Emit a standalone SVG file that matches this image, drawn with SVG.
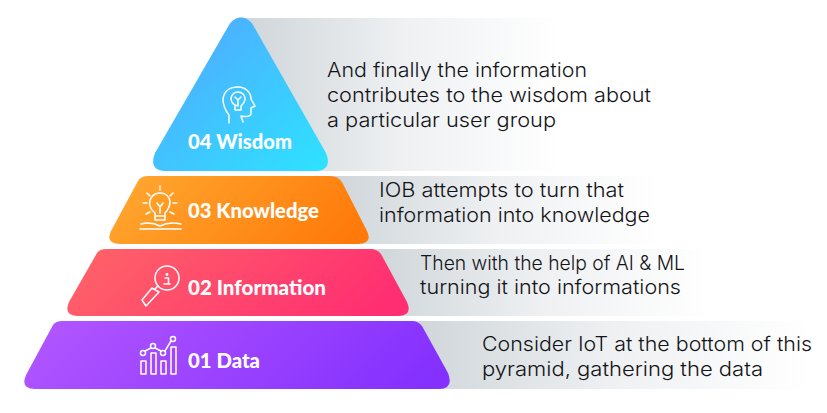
<svg xmlns="http://www.w3.org/2000/svg" width="827" height="413" viewBox="0 0 827 413">
<style>
.d{font-family:"Inter","Liberation Sans",sans-serif;font-size:19.5px;font-weight:300;fill:#141418}
.l{font-family:"Lato","Liberation Sans",sans-serif;font-size:20.5px;font-weight:900;fill:#fff}
.i{fill:none;stroke:#fff;stroke-width:1.5;stroke-linecap:round;stroke-linejoin:round}
</style>
<defs>
<linearGradient id="p" x1="0" y1="0" x2="1" y2="0"><stop offset="0" stop-color="#ced5d9"/><stop offset=".5" stop-color="#eef0f2"/><stop offset="1" stop-color="#fff"/></linearGradient>
<linearGradient id="g4" x1="0" y1="0" x2="1" y2="1"><stop offset="0" stop-color="#54a4ff"/><stop offset="1" stop-color="#2de3ff"/></linearGradient>
<linearGradient id="g3" x1="0" y1=".37" x2="1" y2=".63"><stop offset="0" stop-color="#ffa62e"/><stop offset="1" stop-color="#ff7a0a"/></linearGradient>
<linearGradient id="g2" x1="0" y1=".4" x2="1" y2=".6"><stop offset="0" stop-color="#ff6168"/><stop offset="1" stop-color="#ff2d72"/></linearGradient>
<linearGradient id="g1" x1="0" y1=".42" x2="1" y2=".58"><stop offset="0" stop-color="#b055ff"/><stop offset="1" stop-color="#8430ff"/></linearGradient>
</defs>
<g id="level-04">
<rect x="240" y="18" width="320" height="153" fill="url(#p)"/>
<path d="M229 25C235 15 247 15 253 25L326 153Q333 171 314 171H167Q148 171 155 153Z" fill="url(#g4)"/>
<g class="i"><path d="M229 123V115C225 110 223 104 223 99C224 91 230 87 238 87C246 87 251 93 251 99L255 106L251 108L251 114C250 117 246 117 241 116L243 122"/><path d="M238 106C233 105 231 102 231 98C232 94 235 92 238 92C242 92 245 95 245 99C245 102 243 104 241 106V110H235V106M235 97L238 100L241 97M238 100V106"/></g>
<text class="l" x="188" y="149" textLength="104" lengthAdjust="spacingAndGlyphs">04 Wisdom</text>
<text class="d" x="327" y="77" textLength="260" lengthAdjust="spacingAndGlyphs">And finally the information</text>
<text class="d" x="327" y="102" textLength="324" lengthAdjust="spacingAndGlyphs">contributes to the wisdom about</text>
<text class="d" x="327" y="127" textLength="229" lengthAdjust="spacingAndGlyphs">a particular user group</text>
</g>
<g id="level-03">
<rect x="330" y="176" width="330" height="68" fill="url(#p)"/>
<path d="M138 181Q141 176 148 176H330Q338 176 342 182L367 231Q373 244 358 244H120Q105 244 111 231Z" fill="url(#g3)"/>
<g class="i"><path d="M155 213C150 209 149 204 150 200C152 195 156 193 160 193C165 193 169 196 170 201C170 205 169 209 165 213V220H155ZM155 216H165M157 203L160 207L163 203M160 207V213M160 190V186M147 193L150 196M173 193L170 196M143 203H147M173 203H177M146 214L150 212M174 214L170 212M141 224C148 222 154 223 160 226C166 223 172 222 181 224M140 229H181"/></g>
<text class="l" x="188" y="218" textLength="131" lengthAdjust="spacingAndGlyphs">03 Knowledge</text>
<text class="d" x="379" y="197" textLength="245" lengthAdjust="spacingAndGlyphs">IOB attempts to turn that</text>
<text class="d" x="379" y="222" textLength="271" lengthAdjust="spacingAndGlyphs">information into knowledge</text>
</g>
<g id="level-02">
<rect x="370" y="249" width="340" height="67" fill="url(#p)"/>
<path d="M97 253Q100 249 106 249H370Q377 249 381 254L407 302Q413 316 398 316H78Q63 316 69 302Z" fill="url(#g2)"/>
<g class="i"><circle cx="167" cy="278" r="12"/><path d="M158 286L155 289M152 288L142 300L146 306L159 292ZM165 278H168.5V284M164 284H170"/><circle cx="167" cy="274.500" r=".7"/></g>
<text class="l" x="188" y="295" textLength="138" lengthAdjust="spacingAndGlyphs">02 Information</text>
<text class="d" x="420" y="270" textLength="265" lengthAdjust="spacingAndGlyphs">Then with the help of AI &amp; ML</text>
<text class="d" x="420" y="294" textLength="261" lengthAdjust="spacingAndGlyphs">turning it into informations</text>
</g>
<g id="level-01">
<rect x="410" y="321" width="400" height="68" fill="url(#p)"/>
<path d="M53 325Q56 321 62 321H412Q418 321 422 326L448 373Q454 389 439 389H35Q20 389 26 375Z" fill="url(#g1)"/>
<g class="i"><rect x="141" y="361" width="5" height="13"/><rect x="151" y="353" width="5" height="21"/><rect x="161" y="361" width="5" height="13"/><rect x="171" y="347" width="5" height="27"/><circle cx="143" cy="353" r="2.500"/><circle cx="153" cy="346" r="2.500"/><circle cx="163" cy="353" r="2.500"/><circle cx="173" cy="339" r="2.500"/><path d="M145 351L151 348M155 348L161 351M165 351L171 341"/></g>
<text class="l" x="188" y="368" textLength="72" lengthAdjust="spacingAndGlyphs">01 Data</text>
<text class="d" x="482" y="351" textLength="330" lengthAdjust="spacingAndGlyphs">Consider IoT at the bottom of this</text>
<text class="d" x="482" y="376" textLength="281" lengthAdjust="spacingAndGlyphs">pyramid, gathering the data</text>
</g>
</svg>
